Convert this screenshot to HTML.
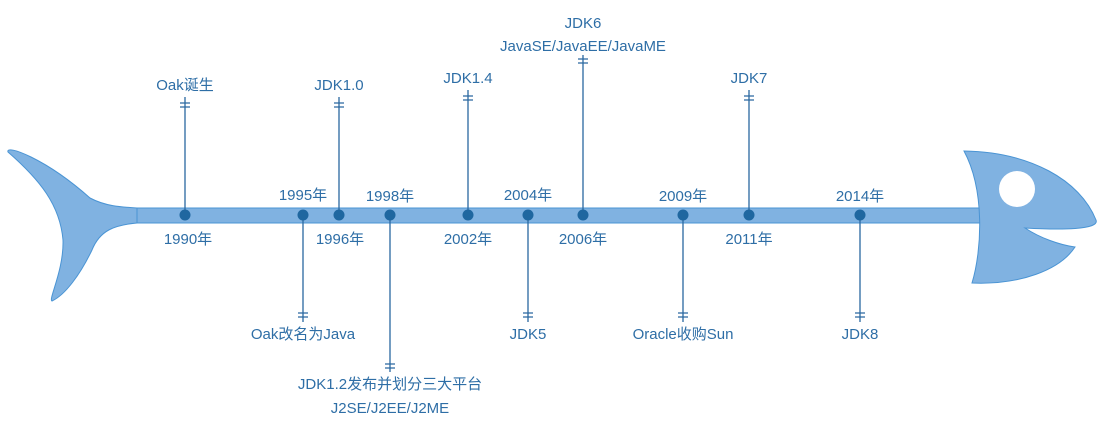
<!DOCTYPE html><html><head><meta charset="utf-8"><style>body{margin:0;background:#fff}svg{display:block}text{font-family:"Liberation Sans","Noto Sans CJK SC",sans-serif;font-size:15px;fill:#2e6ea6;text-anchor:middle}</style></head><body>
<svg width="1105" height="435" viewBox="0 0 1105 435">
<g fill="#80b2e1" stroke="#4a94d4" stroke-width="1">
<path d="M8,152 C5,144 45,158 90,198 C105,206 120,207 137,208 L137,223 C115,225 100,230 92,250 C80,275 65,295 52,301 C48,300 64,270 63,240 C60,205 40,180 8,152 Z"/>
<rect x="137" y="208" width="845" height="15"/>
<path d="M964,151 C1030,152 1080,180 1096,220 C1100,230 1060,230 1025,228 C1040,238 1060,245 1075,247 C1060,270 1020,285 972,283 C982,250 985,190 964,151 Z"/>
</g>
<circle cx="1017" cy="189" r="18" fill="#fff"/>
<g stroke="#2a68a0" stroke-width="1.3" fill="none">
<path d="M185,215V97M180,103h10M180,107h10"/>
<path d="M303,215V322M298,313h10M298,317h10"/>
<path d="M339,215V97M334,103h10M334,107h10"/>
<path d="M390,215V372M385,364h10M385,368h10"/>
<path d="M468,215V90M463,96h10M463,100h10"/>
<path d="M528,215V322M523,313h10M523,317h10"/>
<path d="M583,215V55M578,59h10M578,63h10"/>
<path d="M683,215V322M678,313h10M678,317h10"/>
<path d="M749,215V90M744,96h10M744,100h10"/>
<path d="M860,215V322M855,313h10M855,317h10"/>
</g>
<g fill="#1f67a0">
<circle cx="185" cy="215" r="5.5"/><circle cx="303" cy="215" r="5.5"/><circle cx="339" cy="215" r="5.5"/><circle cx="390" cy="215" r="5.5"/><circle cx="468" cy="215" r="5.5"/><circle cx="528" cy="215" r="5.5"/><circle cx="583" cy="215" r="5.5"/><circle cx="683" cy="215" r="5.5"/><circle cx="749" cy="215" r="5.5"/><circle cx="860" cy="215" r="5.5"/>
</g>
<text x="185" y="90">Oak诞生</text>
<text x="188" y="244">1990年</text>
<text x="303" y="200">1995年</text>
<text x="303" y="339">Oak改名为Java</text>
<text x="339" y="90">JDK1.0</text>
<text x="340" y="244">1996年</text>
<text x="390" y="201">1998年</text>
<text x="390" y="389">JDK1.2发布并划分三大平台</text>
<text x="390" y="413">J2SE/J2EE/J2ME</text>
<text x="468" y="83">JDK1.4</text>
<text x="468" y="244">2002年</text>
<text x="528" y="200">2004年</text>
<text x="528" y="339">JDK5</text>
<text x="583" y="28">JDK6</text>
<text x="583" y="51">JavaSE/JavaEE/JavaME</text>
<text x="583" y="244">2006年</text>
<text x="683" y="201">2009年</text>
<text x="683" y="339">Oracle收购Sun</text>
<text x="749" y="83">JDK7</text>
<text x="749" y="244">2011年</text>
<text x="860" y="201">2014年</text>
<text x="860" y="339">JDK8</text>
</svg></body></html>
